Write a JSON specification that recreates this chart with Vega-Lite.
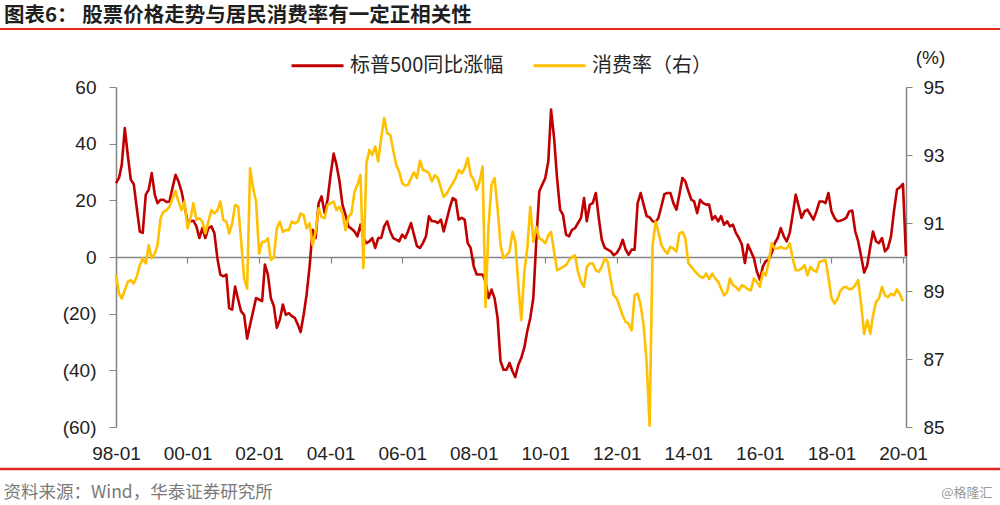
{
  "$schema": "https://vega.github.io/schema/vega-lite/v6.json",
  "width": 790,
  "height": 340,
  "autosize": "none",
  "padding": {"left": 116, "top": 87, "right": 94, "bottom": 78},
  "background": "white",
  "config": {
    "view": {"stroke": null},
    "font": "Liberation Sans",
    "axis": {"grid": false}
  },
  "title": {
    "text": "图表6：  股票价格走势与居民消费率有一定正相关性",
    "anchor": "start",
    "frame": "group",
    "orient": "top",
    "dx": -112,
    "dy": 10,
    "offset": 12,
    "font": "Noto Sans CJK SC",
    "fontSize": 20.5,
    "fontWeight": "bold",
    "color": "#1f1f1f"
  },
  "data": {
    "values": [
      {"d": "1998-01", "s": 26.1, "c": 89.46}, {"d": "1998-02", "s": 27.9, "c": 88.92}, {"d": "1998-03", "s": 32.6, "c": 88.78}, {"d": "1998-04", "s": 45.5, "c": 89.02},
      {"d": "1998-05", "s": 36, "c": 89.27}, {"d": "1998-06", "s": 27.3, "c": 89.32}, {"d": "1998-07", "s": 25.8, "c": 89.22}, {"d": "1998-08", "s": 17.3, "c": 89.42},
      {"d": "1998-09", "s": 9, "c": 89.76}, {"d": "1998-10", "s": 8.5, "c": 89.96}, {"d": "1998-11", "s": 22, "c": 89.81}, {"d": "1998-12", "s": 23.8, "c": 90.35},
      {"d": "1999-01", "s": 29.6, "c": 89.96}, {"d": "1999-02", "s": 22, "c": 90.1}, {"d": "1999-03", "s": 19, "c": 90.35}, {"d": "1999-04", "s": 20.2, "c": 91.14},
      {"d": "1999-05", "s": 20.2, "c": 91.33}, {"d": "1999-06", "s": 19.4, "c": 91.38}, {"d": "1999-07", "s": 19.6, "c": 91.48}, {"d": "1999-08", "s": 24.4, "c": 91.73},
      {"d": "1999-09", "s": 29, "c": 91.94}, {"d": "1999-10", "s": 26.7, "c": 91.63}, {"d": "1999-11", "s": 23.2, "c": 91.38}, {"d": "1999-12", "s": 18, "c": 91.63},
      {"d": "2000-01", "s": 12.6, "c": 90.84}, {"d": "2000-02", "s": 12.6, "c": 91.14}, {"d": "2000-03", "s": 12.8, "c": 91.58}, {"d": "2000-04", "s": 10.8, "c": 91.09},
      {"d": "2000-05", "s": 6.7, "c": 91.14}, {"d": "2000-06", "s": 10.2, "c": 91.04}, {"d": "2000-07", "s": 6.7, "c": 90.69}, {"d": "2000-08", "s": 10.2, "c": 91.04},
      {"d": "2000-09", "s": 10.8, "c": 91.38}, {"d": "2000-10", "s": 8.5, "c": 91.28}, {"d": "2000-11", "s": -0.4, "c": 91.38}, {"d": "2000-12", "s": -6.2, "c": 91.63},
      {"d": "2001-01", "s": -6.8, "c": 91.09}, {"d": "2001-02", "s": -6.2, "c": 91.04}, {"d": "2001-03", "s": -18, "c": 90.69}, {"d": "2001-04", "s": -18.6, "c": 90.99},
      {"d": "2001-05", "s": -10.4, "c": 91.53}, {"d": "2001-06", "s": -15, "c": 91.48}, {"d": "2001-07", "s": -19.2, "c": 90.5}, {"d": "2001-08", "s": -20.4, "c": 89.37},
      {"d": "2001-09", "s": -28.8, "c": 89.07}, {"d": "2001-10", "s": -23.9, "c": 92.61}, {"d": "2001-11", "s": -19.2, "c": 92.02}, {"d": "2001-12", "s": -14.5, "c": 91.63},
      {"d": "2002-01", "s": -15, "c": 90.1}, {"d": "2002-02", "s": -15.6, "c": 90.45}, {"d": "2002-03", "s": -2.7, "c": 90.45}, {"d": "2002-04", "s": -6.2, "c": 90.55},
      {"d": "2002-05", "s": -14.5, "c": 89.91}, {"d": "2002-06", "s": -17.4, "c": 90.0}, {"d": "2002-07", "s": -25, "c": 90.84}, {"d": "2002-08", "s": -22.1, "c": 91.04},
      {"d": "2002-09", "s": -16.8, "c": 90.74}, {"d": "2002-10", "s": -20.4, "c": 90.79}, {"d": "2002-11", "s": -19.8, "c": 90.79}, {"d": "2002-12", "s": -20.9, "c": 91.04},
      {"d": "2003-01", "s": -21.5, "c": 90.99}, {"d": "2003-02", "s": -23.9, "c": 91.04}, {"d": "2003-03", "s": -26.5, "c": 91.28}, {"d": "2003-04", "s": -20.4, "c": 91.23},
      {"d": "2003-05", "s": -13.3, "c": 90.84}, {"d": "2003-06", "s": -3.3, "c": 90.99}, {"d": "2003-07", "s": 9.6, "c": 90.35}, {"d": "2003-08", "s": 6.7, "c": 90.74},
      {"d": "2003-09", "s": 19, "c": 91.43}, {"d": "2003-10", "s": 21.4, "c": 91.18}, {"d": "2003-11", "s": 15.5, "c": 91.14}, {"d": "2003-12", "s": 20.2, "c": 91.53},
      {"d": "2004-01", "s": 29, "c": 91.58}, {"d": "2004-02", "s": 36.5, "c": 91.63}, {"d": "2004-03", "s": 32.6, "c": 91.38}, {"d": "2004-04", "s": 26.7, "c": 91.48},
      {"d": "2004-05", "s": 18.5, "c": 91.28}, {"d": "2004-06", "s": 14.9, "c": 90.79}, {"d": "2004-07", "s": 10.8, "c": 91.18}, {"d": "2004-08", "s": 10, "c": 91.28},
      {"d": "2004-09", "s": 9, "c": 91.92}, {"d": "2004-10", "s": 7.3, "c": 92.12}, {"d": "2004-11", "s": 11.4, "c": 92.41}, {"d": "2004-12", "s": 6.7, "c": 89.68},
      {"d": "2005-01", "s": 4.9, "c": 92.76}, {"d": "2005-02", "s": 5.5, "c": 93.15}, {"d": "2005-03", "s": 6.7, "c": 93.0}, {"d": "2005-04", "s": 3.2, "c": 93.25},
      {"d": "2005-05", "s": 6.7, "c": 92.81}, {"d": "2005-06", "s": 6.7, "c": 93.5}, {"d": "2005-07", "s": 10.8, "c": 94.09}, {"d": "2005-08", "s": 12.6, "c": 93.64},
      {"d": "2005-09", "s": 9, "c": 93.59}, {"d": "2005-10", "s": 6.7, "c": 93.15}, {"d": "2005-11", "s": 6.1, "c": 92.71}, {"d": "2005-12", "s": 5.5, "c": 92.51},
      {"d": "2006-01", "s": 7.9, "c": 92.17}, {"d": "2006-02", "s": 6.7, "c": 92.1}, {"d": "2006-03", "s": 9, "c": 92.12}, {"d": "2006-04", "s": 12, "c": 92.32},
      {"d": "2006-05", "s": 7.9, "c": 92.49}, {"d": "2006-06", "s": 3.8, "c": 92.32}, {"d": "2006-07", "s": 3.2, "c": 92.83}, {"d": "2006-08", "s": 4.9, "c": 92.56},
      {"d": "2006-09", "s": 7.3, "c": 92.53}, {"d": "2006-10", "s": 14.4, "c": 92.46}, {"d": "2006-11", "s": 12.6, "c": 92.22}, {"d": "2006-12", "s": 12.6, "c": 92.41},
      {"d": "2007-01", "s": 12, "c": 92.32}, {"d": "2007-02", "s": 13.2, "c": 92.02}, {"d": "2007-03", "s": 9, "c": 91.77}, {"d": "2007-04", "s": 13.2, "c": 91.87},
      {"d": "2007-05", "s": 17.3, "c": 92.02}, {"d": "2007-06", "s": 20.8, "c": 92.17}, {"d": "2007-07", "s": 20.2, "c": 92.32}, {"d": "2007-08", "s": 13.2, "c": 92.56},
      {"d": "2007-09", "s": 13.8, "c": 92.46}, {"d": "2007-10", "s": 13.2, "c": 92.61}, {"d": "2007-11", "s": 4.9, "c": 92.91}, {"d": "2007-12", "s": 3.2, "c": 92.41},
      {"d": "2008-01", "s": -3.3, "c": 92.27}, {"d": "2008-02", "s": -6.2, "c": 91.97}, {"d": "2008-03", "s": -6.2, "c": 92.22}, {"d": "2008-04", "s": -6.2, "c": 92.66},
      {"d": "2008-05", "s": -8.6, "c": 88.53}, {"d": "2008-06", "s": -14.5, "c": 90.94}, {"d": "2008-07", "s": -11.5, "c": 92.12}, {"d": "2008-08", "s": -14.5, "c": 92.32},
      {"d": "2008-09", "s": -21.5, "c": 91.43}, {"d": "2008-10", "s": -36.8, "c": 90.35}, {"d": "2008-11", "s": -39.8, "c": 89.96}, {"d": "2008-12", "s": -39.8, "c": 90.05},
      {"d": "2009-01", "s": -37.4, "c": 90.16}, {"d": "2009-02", "s": -40.4, "c": 90.74}, {"d": "2009-03", "s": -42.4, "c": 90.45}, {"d": "2009-04", "s": -38, "c": 89.17},
      {"d": "2009-05", "s": -35.6, "c": 88.14}, {"d": "2009-06", "s": -32, "c": 89.56}, {"d": "2009-07", "s": -26.2, "c": 90.25}, {"d": "2009-08", "s": -21.5, "c": 91.48},
      {"d": "2009-09", "s": -14.5, "c": 90.45}, {"d": "2009-10", "s": 5.5, "c": 90.89}, {"d": "2009-11", "s": 23.2, "c": 90.55}, {"d": "2009-12", "s": 25.5, "c": 90.5},
      {"d": "2010-01", "s": 27.9, "c": 90.4}, {"d": "2010-02", "s": 33.8, "c": 90.64}, {"d": "2010-03", "s": 52, "c": 90.74}, {"d": "2010-04", "s": 42, "c": 90.16},
      {"d": "2010-05", "s": 27.9, "c": 89.61}, {"d": "2010-06", "s": 16.7, "c": 89.66}, {"d": "2010-07", "s": 14.9, "c": 89.71}, {"d": "2010-08", "s": 7.9, "c": 89.76},
      {"d": "2010-09", "s": 7.3, "c": 89.91}, {"d": "2010-10", "s": 9.6, "c": 90.0}, {"d": "2010-11", "s": 10.2, "c": 90.05}, {"d": "2010-12", "s": 12, "c": 89.56},
      {"d": "2011-01", "s": 13.8, "c": 89.27}, {"d": "2011-02", "s": 20.8, "c": 89.12}, {"d": "2011-03", "s": 12.6, "c": 89.71}, {"d": "2011-04", "s": 18.5, "c": 89.81},
      {"d": "2011-05", "s": 19, "c": 89.81}, {"d": "2011-06", "s": 22.6, "c": 89.61}, {"d": "2011-07", "s": 13.8, "c": 89.56}, {"d": "2011-08", "s": 6.1, "c": 89.71},
      {"d": "2011-09", "s": 3.2, "c": 89.96}, {"d": "2011-10", "s": 2.6, "c": 89.86}, {"d": "2011-11", "s": 2, "c": 89.32}, {"d": "2011-12", "s": 0.6, "c": 88.87},
      {"d": "2012-01", "s": 1.4, "c": 88.78}, {"d": "2012-02", "s": 3.2, "c": 88.53}, {"d": "2012-03", "s": 6.1, "c": 88.28}, {"d": "2012-04", "s": 2.6, "c": 88.09},
      {"d": "2012-05", "s": 0.8, "c": 88.04}, {"d": "2012-06", "s": 2.6, "c": 87.84}, {"d": "2012-07", "s": 2.6, "c": 88.87}, {"d": "2012-08", "s": 19, "c": 88.92},
      {"d": "2012-09", "s": 22.6, "c": 88.58}, {"d": "2012-10", "s": 18.5, "c": 87.99}, {"d": "2012-11", "s": 14.4, "c": 86.9}, {"d": "2012-12", "s": 14, "c": 85.04},
      {"d": "2013-01", "s": 12.6, "c": 90.35}, {"d": "2013-02", "s": 12.4, "c": 91.04}, {"d": "2013-03", "s": 13.8, "c": 90.74}, {"d": "2013-04", "s": 17.9, "c": 90.35},
      {"d": "2013-05", "s": 22.2, "c": 90.2}, {"d": "2013-06", "s": 22.6, "c": 90.1}, {"d": "2013-07", "s": 22.6, "c": 90.3}, {"d": "2013-08", "s": 19, "c": 90.25},
      {"d": "2013-09", "s": 16.7, "c": 90.16}, {"d": "2013-10", "s": 22, "c": 90.69}, {"d": "2013-11", "s": 27.9, "c": 90.74}, {"d": "2013-12", "s": 26.7, "c": 90.55},
      {"d": "2014-01", "s": 23.2, "c": 89.81}, {"d": "2014-02", "s": 20.2, "c": 89.71}, {"d": "2014-03", "s": 19.6, "c": 89.61}, {"d": "2014-04", "s": 15.5, "c": 89.51},
      {"d": "2014-05", "s": 20.2, "c": 89.42}, {"d": "2014-06", "s": 19, "c": 89.39}, {"d": "2014-07", "s": 18.5, "c": 89.51}, {"d": "2014-08", "s": 18.5, "c": 89.35},
      {"d": "2014-09", "s": 13.2, "c": 89.51}, {"d": "2014-10", "s": 14.4, "c": 89.37}, {"d": "2014-11", "s": 12.6, "c": 89.27}, {"d": "2014-12", "s": 14.4, "c": 89.07},
      {"d": "2015-01", "s": 11.4, "c": 88.87}, {"d": "2015-02", "s": 12.6, "c": 88.97}, {"d": "2015-03", "s": 10.8, "c": 89.37}, {"d": "2015-04", "s": 11.4, "c": 89.17},
      {"d": "2015-05", "s": 8.5, "c": 89.12}, {"d": "2015-06", "s": 6.7, "c": 89.02}, {"d": "2015-07", "s": 4.4, "c": 89.17}, {"d": "2015-08", "s": -2.1, "c": 89.12},
      {"d": "2015-09", "s": 4.4, "c": 89.05}, {"d": "2015-10", "s": 2, "c": 89.02}, {"d": "2015-11", "s": -0.4, "c": 89.37}, {"d": "2015-12", "s": -5.1, "c": 89.27},
      {"d": "2016-01", "s": -8, "c": 89.12}, {"d": "2016-02", "s": -3.3, "c": 89.56}, {"d": "2016-03", "s": -1.5, "c": 89.46}, {"d": "2016-04", "s": -0.9, "c": 89.86},
      {"d": "2016-05", "s": 1.4, "c": 90.4}, {"d": "2016-06", "s": 4.9, "c": 90.25}, {"d": "2016-07", "s": 6.7, "c": 90.25}, {"d": "2016-08", "s": 10.2, "c": 90.3},
      {"d": "2016-09", "s": 7.3, "c": 90.25}, {"d": "2016-10", "s": 5.5, "c": 90.25}, {"d": "2016-11", "s": 8.5, "c": 90.4}, {"d": "2016-12", "s": 14.9, "c": 89.96},
      {"d": "2017-01", "s": 22, "c": 89.61}, {"d": "2017-02", "s": 17.9, "c": 89.61}, {"d": "2017-03", "s": 13.8, "c": 89.66}, {"d": "2017-04", "s": 16.1, "c": 89.76},
      {"d": "2017-05", "s": 16.7, "c": 89.46}, {"d": "2017-06", "s": 14.9, "c": 89.71}, {"d": "2017-07", "s": 13.2, "c": 89.61}, {"d": "2017-08", "s": 16.1, "c": 89.56},
      {"d": "2017-09", "s": 19.6, "c": 89.86}, {"d": "2017-10", "s": 19.6, "c": 89.88}, {"d": "2017-11", "s": 19, "c": 89.91}, {"d": "2017-12", "s": 22.6, "c": 89.4},
      {"d": "2018-01", "s": 16.1, "c": 88.8}, {"d": "2018-02", "s": 13.8, "c": 88.63}, {"d": "2018-03", "s": 12.6, "c": 88.75}, {"d": "2018-04", "s": 12.8, "c": 89.0},
      {"d": "2018-05", "s": 13.2, "c": 89.1}, {"d": "2018-06", "s": 13.8, "c": 89.12}, {"d": "2018-07", "s": 16.1, "c": 89.05}, {"d": "2018-08", "s": 16.4, "c": 89.07},
      {"d": "2018-09", "s": 9, "c": 89.17}, {"d": "2018-10", "s": 5.5, "c": 89.32}, {"d": "2018-11", "s": 0, "c": 88.58}, {"d": "2018-12", "s": -5.5, "c": 87.74},
      {"d": "2019-01", "s": -3, "c": 88.14}, {"d": "2019-02", "s": 3.5, "c": 87.74}, {"d": "2019-03", "s": 9, "c": 88.28}, {"d": "2019-04", "s": 5.5, "c": 88.68},
      {"d": "2019-05", "s": 4.9, "c": 88.78}, {"d": "2019-06", "s": 6.7, "c": 89.12}, {"d": "2019-07", "s": 2, "c": 88.87}, {"d": "2019-08", "s": 3.2, "c": 88.82},
      {"d": "2019-09", "s": 7.3, "c": 88.92}, {"d": "2019-10", "s": 16.1, "c": 88.87}, {"d": "2019-11", "s": 23.8, "c": 89.05}, {"d": "2019-12", "s": 24.6, "c": 88.9},
      {"d": "2020-01", "s": 25.8, "c": 88.7}, {"d": "2020-02", "s": 0.3, "c": null}
    ]
  },
  "layer": [
    {
      "mark": {"type": "line", "strokeWidth": 2.6, "strokeJoin": "round"},
      "encoding": {
        "x": {
          "field": "d", "type": "temporal",
          "scale": {"type": "utc", "domain": [{"year": 1998, "month": 1, "date": 1, "utc": true}, {"year": 2020, "month": 2, "date": 1, "utc": true}]},
          "axis": {
            "orient": "bottom", "offset": -170, "labels": false, "ticks": true, "tickSize": 6,
            "tickCount": {"interval": "year", "step": 2},
            "domainColor": "#858585", "tickColor": "#858585", "domainWidth": 1.5, "tickWidth": 1.2,
            "title": "@格隆汇", "titleX": 876, "titleY": 235, "titleAlign": "right", "titleBaseline": "middle", "titleAnchor": null,
            "titleFont": "Noto Sans CJK SC", "titleFontSize": 13, "titleFontWeight": "normal", "titleColor": "#9a9a9a"
          }
        },
        "y": {
          "field": "s", "type": "quantitative",
          "scale": {"domain": [-60, 60], "nice": false, "zero": false},
          "axis": {
            "orient": "left", "values": [-60, -40, -20, 0, 20, 40, 60],
            "labelExpr": "datum.value < 0 ? '(' + format(-datum.value, 'd') + ')' : format(datum.value, 'd')",
            "tickSize": 7, "tickColor": "#858585", "domainColor": "#858585", "domainWidth": 1.5,
            "labelFontSize": 19, "labelColor": "#222222", "labelPadding": 13, "title": null, "grid": false
          }
        },
        "color": {
          "datum": "标普500同比涨幅", "type": "nominal",
          "scale": {"domain": ["标普500同比涨幅", "消费率（右）"], "range": ["#C00000", "#FFC000"]},
          "legend": {
            "orient": "none", "legendX": 174, "legendY": -49, "direction": "horizontal", "title": null,
            "symbolType": "stroke", "symbolSize": 2704, "symbolStrokeWidth": 3,
            "labelFont": "Noto Sans CJK SC", "labelFontSize": 20, "labelColor": "#262626",
            "labelOffset": 5, "columnPadding": 23, "padding": 0, "labelLimit": 0
          }
        }
      }
    },
    {
      "mark": {"type": "line", "strokeWidth": 2.6, "strokeJoin": "round"},
      "encoding": {
        "x": {
          "field": "d", "type": "temporal",
          "axis": {
            "orient": "bottom", "domain": false, "ticks": false, "tickSize": 0,
            "tickCount": {"interval": "year", "step": 2},
            "format": "%y-%m", "labelFlush": false, "labelOverlap": false, "labelBound": false,
            "labelFontSize": 19, "labelColor": "#222222", "labelPadding": 17,
            "title": "资料来源：Wind，华泰证券研究所", "titleX": -113, "titleY": 65, "titleAlign": "left", "titleBaseline": "middle", "titleAnchor": null,
            "titleFont": "Noto Sans CJK SC", "titleFontSize": 17.5, "titleFontWeight": "normal", "titleColor": "#7a7a7a"
          }
        },
        "y": {
          "field": "c", "type": "quantitative",
          "scale": {"domain": [85, 95], "nice": false, "zero": false},
          "axis": {
            "orient": "right", "values": [85, 87, 89, 91, 93, 95],
            "tickSize": 6, "tickColor": "#858585", "domainColor": "#858585", "domainWidth": 1.5,
            "labelFontSize": 19, "labelColor": "#222222", "labelPadding": 11,
            "title": "(%)", "titleAngle": 0, "titleX": 24, "titleY": -30, "titleAlign": "center", "titleBaseline": "middle", "titleAnchor": null,
            "titleFontSize": 19, "titleFontWeight": "normal", "titleColor": "#222222", "grid": false
          }
        },
        "color": {"datum": "消费率（右）", "type": "nominal"}
      }
    },
    {
      "data": {"values": [{"k": "top"}]},
      "mark": {"type": "rule", "color": "#E3261C", "strokeWidth": 2},
      "encoding": {"x": {"value": -116}, "x2": {"value": 884}, "y": {"value": -58}}
    },
    {
      "data": {"values": [{"k": "bottom"}]},
      "mark": {"type": "rule", "color": "#E3261C", "strokeWidth": 2.5},
      "encoding": {"x": {"value": -116}, "x2": {"value": 884}, "y": {"value": 382}}
    }
  ],
  "resolve": {"scale": {"y": "independent"}, "axis": {"x": "independent", "y": "independent"}}
}
